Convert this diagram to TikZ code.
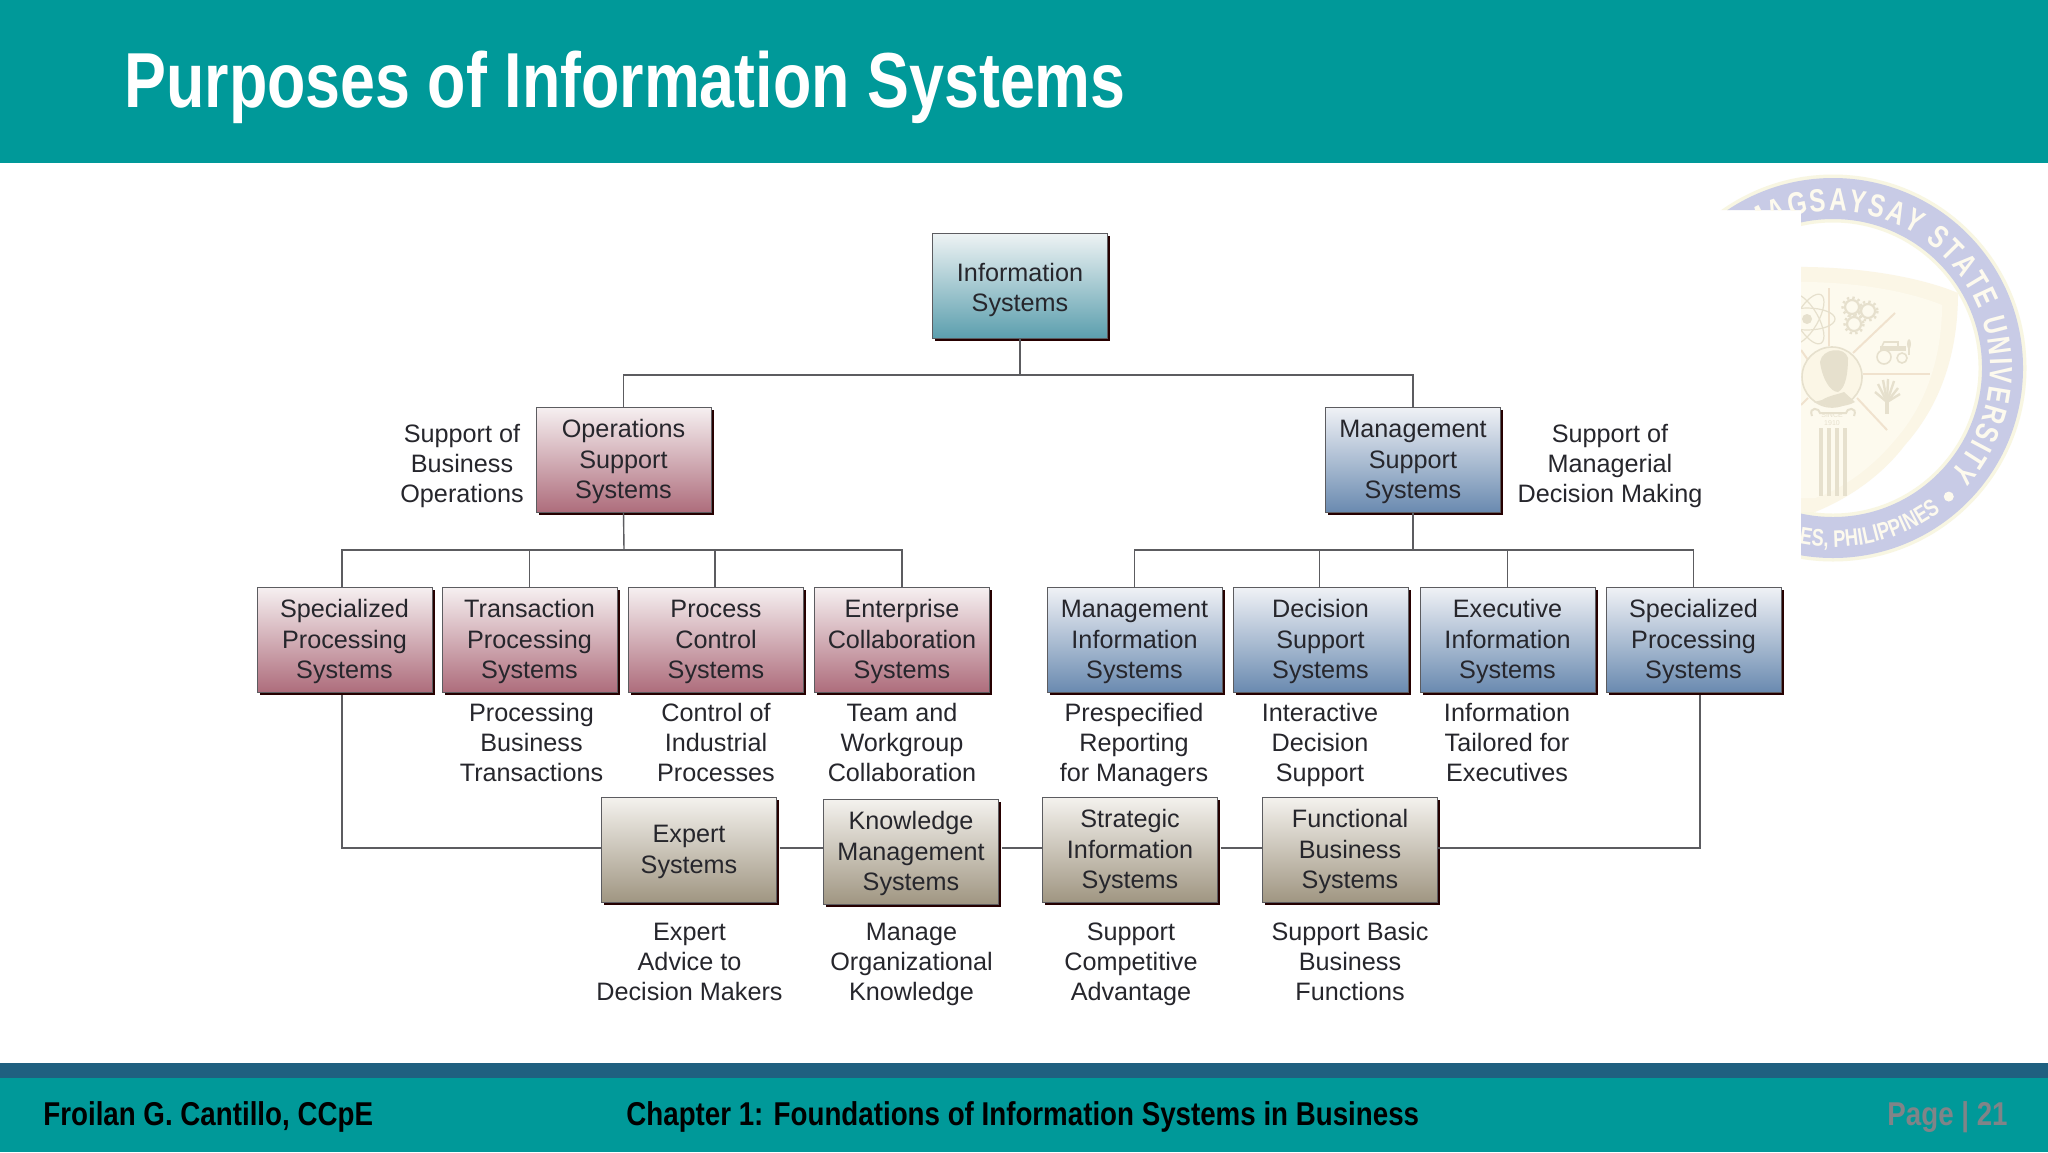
\documentclass[tikz,border=0pt]{standalone}
\usepackage{fontspec}
\setmainfont{Liberation Sans}
\newfontfamily\condf[FakeStretch=0.805]{Liberation Sans}
\newfontfamily\footf[FakeStretch=0.84]{Liberation Sans}
\newfontfamily\sealf[FakeStretch=0.76]{Liberation Sans}
\usetikzlibrary{shadows,decorations.text}
\newcommand{\fl}{\rule{0pt}{12pt}}
\definecolor{teal0}{HTML}{009999}
\definecolor{band}{HTML}{1F6080}
\definecolor{ink}{HTML}{26262C}
\definecolor{lineg}{HTML}{5C5C60}
\definecolor{ringc}{HTML}{C8CBE6}
\definecolor{halo}{HTML}{F8F6E2}
\definecolor{shieldc}{HTML}{FBF6E6}
\definecolor{shieldi}{HTML}{FDFAEE}
\definecolor{spoke}{HTML}{F0E2CE}
\definecolor{emb}{HTML}{E6E0CD}
\definecolor{rtop}{HTML}{F6F0F1}\definecolor{rbot}{HTML}{AE6D7C}
\definecolor{btop}{HTML}{F0F2F6}\definecolor{bbot}{HTML}{6A8AB0}
\definecolor{ttop}{HTML}{EEF3F4}\definecolor{tbot}{HTML}{5C9FAE}
\definecolor{ntop}{HTML}{F4F2EE}\definecolor{nbot}{HTML}{A09682}
\tikzset{
  evenlines/.style={execute at end node={\rule[-3.5pt]{0pt}{3.5pt}}},
  sysbox/.style={draw=lineg,line width=.5pt,inner sep=0pt,minimum width=87.5pt,minimum height=52.5pt,
    align=center,text=ink,font=\fontsize{12.6}{15.2}\selectfont,evenlines,
    drop shadow={shadow xshift=1.25pt,shadow yshift=-1.25pt,fill=black!85!red,opacity=1}},
  redbox/.style={sysbox,top color=rtop,bottom color=rbot},
  bluebox/.style={sysbox,top color=btop,bottom color=bbot},
  tealbox/.style={sysbox,top color=ttop,bottom color=tbot},
  tanbox/.style={sysbox,top color=ntop,bottom color=nbot},
  note/.style={align=center,text=ink,inner sep=0pt,font=\fontsize{12.6}{15.2}\selectfont,evenlines},
  conn/.style={draw=lineg,line width=.7pt},
}
\begin{document}
\begin{tikzpicture}[x=.5pt,y=-.5pt]
\useasboundingbox (0,0) rectangle (2048,1152);
\fill[white] (0,0) rectangle (2048,1152);
% seal
\begin{scope}
\clip (1700,170) -- (2048,170) -- (2048,600) -- (1801,600) -- (1801,210) -- (1700,210) -- cycle;
\begin{scope}[shift={(1833,368)},x=.5pt,y=.5pt]
  \draw[halo,line width=2.5pt] (0,0) circle (191);
  \draw[halo,line width=2.5pt] (0,0) circle (148);
  \fill[ringc,even odd rule] (0,0) circle (190) (0,0) circle (149);
  \path[decorate,decoration={text along path,text align={fit to path},
     text={|\sealf\bfseries\fontsize{16}{16}\selectfont\color{shieldi}|MAGSAYSAY STATE UNIVERSITY}}]
     (121:157) arc[start angle=121,end angle=-42,radius=157];
  \path[decorate,decoration={text along path,text align={fit to path},
     text={|\sealf\bfseries\fontsize{12}{12}\selectfont\color{shieldi}|ES, PHILIPPINES}}]
     (-101:179) arc[start angle=-101,end angle=-53,radius=179];
  \fill[shieldi] (-48:173) circle (5);
\end{scope}
% shield
\fill[shieldc] (1790,267) .. controls (1850,266) and (1915,275) .. (1958,293)
  .. controls (1958,345) and (1945,400) .. (1905,445)
  .. controls (1880,478) and (1845,500) .. (1815,512) -- (1790,512) -- cycle;
\fill[shieldi] (1790,282) .. controls (1850,281) and (1905,290) .. (1942,305)
  .. controls (1942,350) and (1930,400) .. (1895,440)
  .. controls (1870,470) and (1840,490) .. (1815,498) -- (1790,498) -- cycle;
\draw[spoke,line width=1pt] (1829,288) -- (1829,346);
\draw[spoke,line width=1pt] (1853,353) -- (1895,313);
\draw[spoke,line width=1pt] (1863,374) -- (1930,374);
\draw[spoke,line width=1pt] (1857,398) -- (1887,430);
\draw[spoke,line width=1pt] (1801,350) -- (1808,360);
\draw[spoke,line width=1pt] (1801,405) -- (1808,398);
% atom
\begin{scope}[emb,line width=.6pt]
  \draw[rotate around={60:(1807,319)}] (1807,319) ellipse (28 and 11);
  \draw[rotate around={-60:(1807,319)}] (1807,319) ellipse (28 and 11);
  \draw (1807,319) ellipse (28 and 11);
  \fill (1807,319) circle (5);
\end{scope}
% gears
\foreach \gx/\gy in {1852/307,1868/311,1854/324}{
  \draw[emb,line width=1.1pt] (\gx,\gy) circle (7);
  \draw[emb,line width=1.2pt,dash pattern=on 1.2pt off 1.6pt] (\gx,\gy) circle (9.5);
}
% tractor
\begin{scope}[emb,line width=.8pt]
  \draw (1884,357) circle (7);
  \draw (1902,358) circle (5);
  \fill (1880,346) rectangle (1906,351);
  \draw (1882,346) -- (1884,342) -- (1898,342) -- (1898,346);
  \draw (1909,355) -- (1909,340);
  \fill (1909,344) ellipse (2 and 5);
\end{scope}
% tree
\begin{scope}[emb,line width=1.2pt]
  \draw[line width=2pt] (1887,414) -- (1887,396);
  \foreach \tx/\ty in {1875/392,1878/384,1883/380,1888/379,1894/381,1898/388,1900/394}{
    \draw (1887,402) -- (\tx,\ty);
  }
\end{scope}
% medallion
\draw[emb,fill=shieldc,line width=.8pt] (1832,377) circle (30);
\fill[emb] (1822,400) .. controls (1830,395) and (1836,395) .. (1844,392) -- (1855,402)
  .. controls (1845,408) and (1825,408) .. (1814,402) -- cycle;
\fill[emb] (1820,362) .. controls (1822,348) and (1845,346) .. (1848,358)
  .. controls (1848,372) and (1846,388) .. (1838,392) .. controls (1830,392) and (1822,378) .. (1820,362) -- cycle;
% column
\draw[emb,line width=1pt] (1812,416) .. controls (1808,406) and (1820,408) .. (1820,413) -- (1846,413)
   .. controls (1846,408) and (1858,406) .. (1854,416);
\node[text=emb,inner sep=0pt,align=center,font=\fontsize{3.5}{4}\selectfont] (since) at (1832,419) {SINCE\\1910};
\foreach \cx in {1819,1827,1835,1843}{
  \fill[emb] (\cx,428) rectangle ++(4,68);
}
\end{scope}
% header and footer
\fill[teal0] (0,0) rectangle (2048,163);
\fill[band] (0,1063) rectangle (2048,1078);
\fill[teal0] (0,1078) rectangle (2048,1152);
\node[anchor=base west,inner sep=0pt,text=white,font=\condf\bfseries\fontsize{39}{39}\selectfont] (title) at (124,107) {Purposes of Information Systems};
\node[anchor=base west,inner sep=0pt,text=black,font=\footf\bfseries\fontsize{16.5}{16.5}\selectfont] (author) at (43,1125) {Froilan G. Cantillo, CCpE};
\node[anchor=base west,inner sep=0pt,text=black,font=\footf\bfseries\fontsize{16.5}{16.5}\selectfont] (chapter) at (626,1125) {Chapter 1: Foundations of Information Systems in Business};
\node[anchor=base west,inner sep=0pt,text={rgb,255:red,128;green,132;blue,136},font=\footf\bfseries\fontsize{16.5}{16.5}\selectfont] (page) at (1887,1125) {Page | 21};
% boxes
\node[tealbox] (info) at (1020,285.5) {\rule{0pt}{14.3pt}Information\\Systems};
\node[redbox] (ops) at (623.5,459.5) {\fl Operations\\Support\\Systems};
\node[bluebox] (mgmt) at (1413,459.5) {\fl Management\\Support\\Systems};
\node[redbox] (spL) at (344.5,639.5) {\fl Specialized\\Processing\\Systems};
\node[redbox] (tps) at (529.5,639.5) {\fl Transaction\\Processing\\Systems};
\node[redbox] (pcs) at (716,639.5) {\fl Process\\Control\\Systems};
\node[redbox] (ecs) at (902,639.5) {\fl Enterprise\\Collaboration\\Systems};
\node[bluebox] (mis) at (1134.5,639.5) {\fl Management\\Information\\Systems};
\node[bluebox] (dss) at (1320.5,639.5) {\fl Decision\\Support\\Systems};
\node[bluebox] (eis) at (1507.5,639.5) {\fl Executive\\Information\\Systems};
\node[bluebox] (spR) at (1693.5,639.5) {\fl Specialized\\Processing\\Systems};
\node[tanbox] (exs) at (689,849.5) {\fl Expert\\Systems};
\node[tanbox] (kms) at (911,851.5) {\fl Knowledge\\Management\\Systems};
\node[tanbox] (sis) at (1130,849.5) {\fl Strategic\\Information\\Systems};
\node[tanbox] (fbs) at (1350,849.5) {\fl Functional\\Business\\Systems};
% connectors
\coordinate (busT) at (1020,375);
\coordinate (busL) at (624,550);
\coordinate (busR) at (1413,550);
\coordinate (midL) at (0,848);
\draw[conn] (info.south) -- (busT);
\draw[conn] (ops.north) |- (busT) -| (mgmt.north);
\draw[conn] (ops.south) -- (busL);
\draw[conn] ([xshift=-1.2pt]spL.north) |- (busL) -| (ecs.north);
\draw[conn] (tps.north) |- (busL);
\draw[conn] ([xshift=-.5pt]pcs.north) |- (busL);
\draw[conn] (mgmt.south) -- (busR);
\draw[conn] (mis.north) |- (busR) -| (spR.north);
\draw[conn] ([xshift=-.5pt]dss.north) |- (busR);
\draw[conn] (eis.north) |- (busR);
\draw[conn] ([xshift=-1.2pt,yshift=-1.25pt]spL.south) |- (exs.west |- midL);
\draw[conn] ([xshift=3.2pt,yshift=-1.25pt]spR.south) |- (fbs.east |- midL);
\draw[conn] ([xshift=1.25pt]exs.east |- midL) -- (kms.west |- midL);
\draw[conn] ([xshift=1.25pt]kms.east |- midL) -- (sis.west |- midL);
\draw[conn] ([xshift=1.25pt]sis.east |- midL) -- (fbs.west |- midL);
% labels
\node[note] (n1) at (462,464) {\fl Support of\\Business\\Operations};
\node[note] (n2) at (1610,464) {\fl Support of\\Managerial\\Decision Making};
\node[note] (n3) at (531.5,743) {\fl Processing\\Business\\Transactions};
\node[note] (n4) at (716,743) {\fl Control of\\Industrial\\Processes};
\node[note] (n5) at (902,743) {\fl Team and\\Workgroup\\Collaboration};
\node[note] (n6) at (1134,743) {\fl Prespecified\\Reporting\\for Managers};
\node[note] (n7) at (1320,743) {\fl Interactive\\Decision\\Support};
\node[note] (n8) at (1507,743) {\fl Information\\Tailored for\\Executives};
\node[note] (n9) at (689.5,962) {\fl Expert\\Advice to\\Decision Makers};
\node[note] (n10) at (911.5,962) {\fl Manage\\Organizational\\Knowledge};
\node[note] (n11) at (1131,962) {\fl Support\\Competitive\\Advantage};
\node[note] (n12) at (1350,962) {\fl Support Basic\\Business\\Functions};
\end{tikzpicture}
\end{document}
